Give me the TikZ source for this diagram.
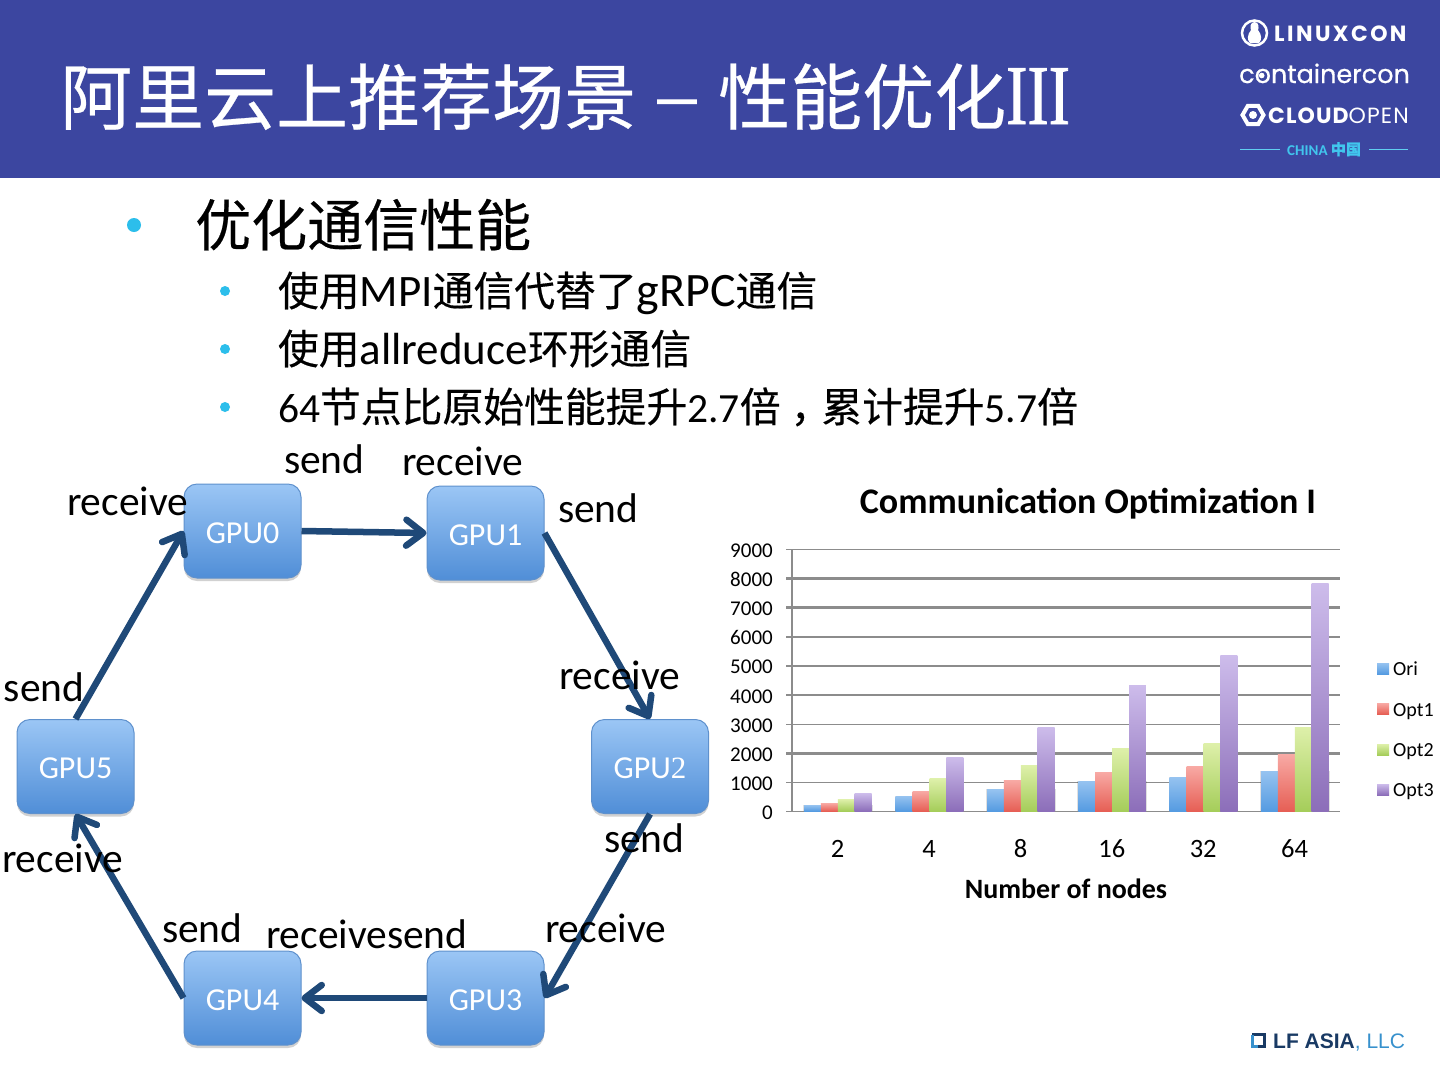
\documentclass[tikz,border=0pt]{standalone}
\usepackage{fontspec}
\setmainfont{Carlito}
\newfontfamily\cjkf[FakeBold=0.35]{Noto Sans CJK SC}
\newfontfamily\serf{Liberation Serif}
\newfontfamily\serc[FakeStretch=0.75,FakeBold=1]{Liberation Serif}
\newfontfamily\popf{Poppins}
\newfontfamily\popw[LetterSpace=11]{Poppins}
\newfontfamily\popc[LetterSpace=5]{Poppins}
\newfontfamily\popt[FakeBold=0.6]{Poppins}
\newfontfamily\arif{Liberation Sans}
\usetikzlibrary{arrows.meta,shadows,shapes.geometric}
\newcommand{\fsz}[1]{\fontsize{#1}{#1}\selectfont}
\newcommand{\cj}[1]{{\cjkf #1}}
\newcommand{\cjs}[1]{{\cjkf\fsz{40.8}#1}}
\newcommand{\dgt}[1]{{\fsz{41.5}#1}}
\definecolor{hdr}{RGB}{60,70,160}
\definecolor{cyanb}{RGB}{44,190,235}
\definecolor{arr}{RGB}{31,73,120}
\definecolor{grid}{RGB}{140,140,140}
\definecolor{gedge}{RGB}{95,145,205}
\definecolor{gtop}{RGB}{155,198,245}
\definecolor{gbot}{RGB}{80,142,215}
\definecolor{atop}{RGB}{150,195,240}
\definecolor{abot}{RGB}{85,155,225}
\definecolor{btop}{RGB}{248,170,165}
\definecolor{bbot}{RGB}{230,95,85}
\definecolor{ctop}{RGB}{222,240,170}
\definecolor{cbot}{RGB}{165,205,90}
\definecolor{dtop}{RGB}{205,188,235}
\definecolor{dbot}{RGB}{140,110,185}
\definecolor{lfdark}{RGB}{25,58,100}
\definecolor{lfblue}{RGB}{55,145,205}
\tikzset{
 lab/.style={anchor=base west,inner sep=0pt,outer sep=0pt,font=\fsz{41.5}},
 sub/.style={anchor=base west,inner sep=0pt,outer sep=0pt,font=\fsz{45}},
 gpu/.style={rectangle,rounded corners=13pt,minimum width=117pt,minimum height=94pt,inner sep=0pt,
   draw=gedge,line width=1pt,top color=gtop,bottom color=gbot,
   text=white,font=\fsz{32},text height=24pt,text depth=0pt,drop shadow={shadow xshift=0pt,shadow yshift=-3pt,opacity=.18,fill=black}},
 link/.style={draw=arr,line width=6.5pt,-{Straight Barb[length=17pt,width=26pt,line width=6.5pt,round]}},
 ytick/.style={anchor=base east,inner sep=0pt,font=\fsz{21}},
 xtick/.style={anchor=base,inner sep=0pt,font=\fsz{26.5}},
 leg/.style={anchor=base west,inner sep=0pt,font=\fsz{20}},
 barA/.style={top color=atop,bottom color=abot},
 barB/.style={top color=btop,bottom color=bbot},
 barC/.style={top color=ctop,bottom color=cbot},
 barD/.style={top color=dtop,bottom color=dbot},
 logo/.style={anchor=base west,inner sep=0pt,text=white},
}
\begin{document}
\begin{tikzpicture}[x=1pt,y=-1pt]
\useasboundingbox (0,0) rectangle (1440,1080);
\fill[white] (0,0) rectangle (1440,1080);
\fill[hdr] (0,0) rectangle (1440,178);
% title
\node[anchor=base west,inner sep=0pt,text=white,font=\fsz{72}] (title) at (60,124) {\cj{阿里云上推荐场景}\hspace{21pt}\raisebox{4pt}{\arif –}\hspace{21pt}\cj{性能优化}{\serc\fsz{85}III}};
% logos
\draw[white,line width=2.5pt] (1254.5,33) circle (12.5);
\fill[white] (1254.5,22) .. controls (1250,22) and (1250,28) .. (1251,30) .. controls (1247,35) and (1247,40) .. (1250,43) -- (1259,43) .. controls (1262,40) and (1262,35) .. (1258,30) .. controls (1259,28) and (1259,22) .. (1254.5,22) -- cycle;
\node[logo,font=\popw\bfseries\fsz{22}] (lc) at (1274,41) {LINUXCON};
\node[logo,font=\popt\fsz{25.5}] (cc) at (1239,83) {containercon};
\fill[white] (1261.7,75.5) circle (2.8);
\node[regular polygon,regular polygon sides=6,draw=white,line width=4pt,minimum size=21pt,inner sep=0pt] (hex) at (1253,115) {};
\fill[white] (hex.center) circle (4);
\node[logo,font=\popc\bfseries\fsz{22}] (co) at (1268,123) {CLOUD{\mdseries OPEN}};
\draw[cyanb!75!white,line width=.8pt] (1240,149.5) -- (1280,149.5) (1369,149.5) -- (1408,149.5);
\node[anchor=base west,inner sep=0pt,text=cyanb!90!white,font=\bfseries\fsz{15}] (ch) at (1287,155) {CHINA \cj{中国}};
% bullets
\fill[cyanb] (134,225) circle (7);
\foreach \y in {291,349,407} \fill[cyanb] (225,\y) circle (5);
\node[anchor=base west,inner sep=0pt,font=\fsz{56}] (h1) at (195,246) {\cj{优化通信性能}};
\node[sub] (s1) at (278,306) {\cjs{使用}MPI\cjs{通信代替了}{\fsz{48}gRPC}\cjs{通信}};
\node[sub] (s2) at (278,364) {\cjs{使用}allreduce\cjs{环形通信}};
\node[sub] (s3) at (278,422) {\dgt{64}\cjs{节点比原始性能提升}\dgt{2.7}\cjs{倍\hspace{10pt}，\hspace{-10pt}累计提升}\dgt{5.7}\cjs{倍}};
% GPU ring
\node[gpu] (g0) at (242.5,531) {GPU0};
\node[gpu] (g1) at (485.5,533) {GPU1};
\node[gpu] (g2) at (650,766.5) {GPU{\serf\fsz{31}2}};
\node[gpu] (g3) at (485.5,998) {GPU3};
\node[gpu] (g4) at (242.5,998) {GPU4};
\node[gpu] (g5) at (75.5,766.5) {GPU5};
\draw[link] (g0.east) -- (g1.west);
\draw[link] (g1.east) -- (g2.north);
\draw[link] (g2.south) -- (g3.east);
\draw[link] (g3.west) -- (g4.east);
\draw[link] (g4.west) -- (g5.south);
\draw[link] (g5.north) -- (g0.west);
\node[lab] (l1) at (284,473) {send};
\node[lab] (l2) at (402,475) {receive};
\node[lab] (l3) at (67,515) {receive};
\node[lab] (l4) at (558,522) {send};
\node[lab] (l5) at (4,701) {send};
\node[lab] (l6) at (559,689) {receive};
\node[lab] (l7) at (604,852) {send};
\node[lab] (l8) at (2,872) {receive};
\node[lab] (l9) at (545,942) {receive};
\node[lab] (l10) at (162,942) {send};
\node[lab] (l11) at (266,948) {receive};
\node[lab] (l12) at (387,948) {send};
% chart
\node[anchor=base,inner sep=0pt,font=\bfseries\fsz{36}] (ct) at (1088,513) {Communication Optimization I};
\foreach \v/\w in {1/1.5,2/2.5,3/1.5,4/1.5,5/2.5,6/1.5,7/2.5,8/2.5,9/1.5}
  \draw[grid,line width=\w pt] (786,811.7-\v*29.15) -- (1340,811.7-\v*29.15);
\draw[grid,line width=1.5pt] (792,549) -- (792,812);
\draw[grid,line width=1.5pt] (786,811.7) -- (1340,811.7);
\foreach \v in {0,1000,...,9000}
  \node[ytick] at (773,811.7-\v*0.02915+8) {\v};
\foreach \g/\x/\lb/\a/\b/\c/\d in {0/804/2/805/803/799.3/793.3,1/895.7/4/796/791/778.7/757.3,2/987/8/789.3/780/765.3/727.3,3/1078.3/16/781/772/748.3/685.3,4/1169.7/32/777/766/743.3/655.3,5/1261/64/771/754/727.3/583.3}{
  \fill[black,opacity=.12] (\x-1,\a) rectangle (\x+68.5,811);
  \path[barA] (\x,\a) rectangle (\x+16.9,811);
  \path[barB] (\x+16.9,\b) rectangle (\x+33.8,811);
  \path[barC] (\x+33.8,\c) rectangle (\x+50.7,811);
  \path[barD] (\x+50.7,\d) rectangle (\x+67.6,811);
  \node[xtick] at (\x+33.5,857) {\lb};
}
\node[anchor=base,inner sep=0pt,font=\bfseries\fsz{28}] (xt) at (1066,898) {Number of nodes};
\path[barA] (1377,663) rectangle (1389,674);
\path[barB] (1377,703) rectangle (1389,714);
\path[barC] (1377,744) rectangle (1389,755);
\path[barD] (1377,784) rectangle (1389,795);
\node[leg] (la) at (1393,675) {Ori};
\node[leg] (lb) at (1393,716) {Opt1};
\node[leg] (lc2) at (1393,756) {Opt2};
\node[leg] (ld) at (1393,796) {Opt3};
% footer logo
\draw[lfdark,line width=3pt] (1252,1034.5) -- (1264,1034.5) -- (1264,1046.5) -- (1258,1046.5);
\draw[lfblue,line width=3pt] (1252,1034.5) -- (1252,1046.5) -- (1258,1046.5);
\node[anchor=base west,inner sep=0pt,font=\arif\fsz{21}] (lf) at (1273,1048) {\textcolor{lfdark}{\bfseries LF ASIA}\textcolor{lfblue}{, LLC}};
\end{tikzpicture}
\end{document}
